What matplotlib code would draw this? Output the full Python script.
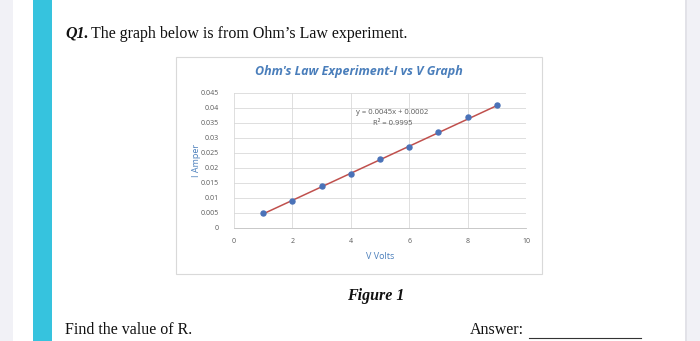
import numpy as np
import matplotlib
matplotlib.use("Agg")
import matplotlib.pyplot as plt
from matplotlib.patches import Rectangle

# data
volts = [1, 2, 3, 4, 5, 6, 7, 8, 9]
amps = [0.005, 0.009, 0.014, 0.018, 0.023, 0.027, 0.032, 0.037, 0.041]
slope, intercept = 0.0045, 0.0002
x_ticks = [0, 2, 4, 6, 8, 10]
y_ticks = [0, 0.005, 0.01, 0.015, 0.02, 0.025, 0.03, 0.035, 0.04, 0.045]
y_tick_labels = ["0", "0.005", "0.01", "0.015", "0.02", "0.025", "0.03", "0.035", "0.04", "0.045"]

W, H = 700, 341
fig = plt.figure(figsize=(7.0, 3.41), dpi=100)
fig.patch.set_facecolor("#f1f1f6")

def fx(px): return px / W
def fy(py): return 1 - py / H

# white page + cyan side bar
fig.add_artist(Rectangle((fx(13), 0), fx(672), 1, transform=fig.transFigure,
                         facecolor="white", edgecolor="none", zorder=0))
fig.add_artist(Rectangle((fx(685), 0), fx(2), 1, transform=fig.transFigure,
                         facecolor="#e2e2e8", edgecolor="none", zorder=0))
fig.add_artist(Rectangle((fx(33), 0), fx(19), 1, transform=fig.transFigure,
                         facecolor="#36c3de", edgecolor="none", zorder=1))

serif = "Liberation Serif"
q = fig.text(fx(65), fy(38), "Q1.", fontsize=11.5, family=serif, weight="bold",
             style="italic", color="#111111")
fig.canvas.draw()
qbox = q.get_window_extent()
fig.text(qbox.x1 / W + fx(3), fy(38), "The graph below is from Ohm\u2019s Law experiment.",
         fontsize=11.5, family=serif, color="#111111")

# chart box
fig.add_artist(Rectangle((fx(176), fy(274)), fx(366), fy(57) - fy(274),
                         transform=fig.transFigure, facecolor="white",
                         edgecolor="#d9d9d9", lw=0.8, zorder=1))

sans = "Open Sans"
ax = fig.add_axes([fx(234), fy(228), fx(526) - fx(234), fy(92.7) - fy(228)])
ax.set_zorder(5)
ax.patch.set_alpha(0)
ax.set_xlim(0, 10)
ax.set_ylim(0, 0.045)
ax.set_xticks(x_ticks)
ax.set_yticks(y_ticks)
ax.set_yticklabels(y_tick_labels)
ax.grid(True, color="#d9d9d9", lw=0.6)
ax.set_axisbelow(True)
for s in ["top", "right", "left"]:
    ax.spines[s].set_visible(False)
ax.spines["bottom"].set_color("#bfbfbf")
ax.spines["bottom"].set_linewidth(0.6)
ax.tick_params(length=0, labelsize=5, labelcolor="#595959")
ax.tick_params(axis="y", pad=11)
ax.tick_params(axis="x", pad=7)
for lbl in ax.get_xticklabels() + ax.get_yticklabels():
    lbl.set_family(sans)

xs = np.array([volts[0], volts[-1]])
ax.plot(xs, slope * xs + intercept, color="#c0504d", lw=1.1, zorder=2)
ax.scatter(volts, amps, s=13, color="#4a72b8", zorder=3)

ax.text(5.43, 0.0383, "y = 0.0045x + 0.0002", fontsize=5.5, family=sans,
        color="#595959", ha="center", va="center")
ax.text(5.43, 0.0347, "R\u00b2 = 0.9995", fontsize=5.5, family=sans,
        color="#595959", ha="center", va="center")

ax.set_xlabel("V Volts", fontsize=6.5, family=sans, color="#4a7ebb", labelpad=5)
ax.set_ylabel("I Amper", fontsize=6.5, family=sans, color="#4a7ebb")
ax.yaxis.set_label_coords((201 - 234) / 292, 0.5)

fig.text(fx(359), fy(72), "Ohm's Law Experiment-I vs V Graph", fontsize=9,
         family=sans, weight="bold", style="italic", color="#4a7ebb",
         ha="center", va="center")

fig.text(fx(376), fy(296), "Figure 1", fontsize=11.5, family=serif, weight="bold",
         style="italic", color="#111111", ha="center", va="center")
fig.text(fx(65), fy(334), "Find the value of R.", fontsize=11.5, family=serif,
         color="#111111")
fig.text(fx(470), fy(334), "Answer:", fontsize=11.5, family=serif, color="#111111")
fig.add_artist(plt.Line2D([fx(529), fx(641)], [fy(338), fy(338)],
                          transform=fig.transFigure, color="#333333", lw=0.8))

fig.savefig("out.png", dpi=100)
